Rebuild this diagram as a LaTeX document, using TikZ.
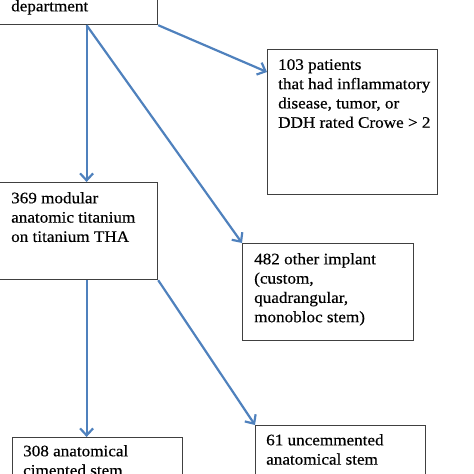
\documentclass[tikz,border=0pt]{standalone}
\usepackage{fontspec}
\setmainfont{Liberation Serif}[FakeStretch=1.07,FakeBold=0.4]
\usetikzlibrary{arrows.meta}
\definecolor{flowblue}{RGB}{79,129,189}
\definecolor{boxgray}{RGB}{64,64,64}

\begin{document}
\begin{tikzpicture}[x=1pt,y=-1pt,
    box/.style={draw=boxgray, line width=1.2pt, anchor=north west, inner sep=0pt},
    txt/.style={anchor=north west, align=left, inner sep=0pt,
                font=\fontsize{16}{19.3}\selectfont},
    flow/.style={draw=flowblue, line width=2.2pt,
                 -{Straight Barb[length=7pt,width=13pt]}}]
            % Fixed frame and clip
            \useasboundingbox (0,0) rectangle (474,474);
            \clip (0,0) rectangle (474,474);

            % Boxes
            \node[box, minimum width=159, minimum height=84] (intake) at (-2,-60) {};
            \node[box, minimum width=159, minimum height=97] (modular) at (-2,182) {};
            \node[box, minimum width=170, minimum height=145] (excluded) at (267,49) {};
            \node[box, minimum width=171, minimum height=97] (other) at (242,243) {};
            \node[box, minimum width=170, minimum height=60] (cemented) at (12,437) {};
            \node[box, minimum width=170, minimum height=80] (uncemented) at (255,425) {};

            % Texts
            \node[txt] (intaketxt) at ([shift={(13,60)}]intake.north west) {department};
            \node[txt] (modulartxt) at ([shift={(13,10)}]modular.north west)
                {369 modular\\anatomic titanium\\on titanium THA};
            \node[txt] (excludedtxt) at ([shift={(11,10)}]excluded.north west)
                {103 patients\\that had inflammatory\\disease, tumor, or\\DDH rated Crowe > 2};
            \node[txt] (othertxt) at ([shift={(12,10)}]other.north west)
                {482 other implant\\(custom,\\quadrangular,\\monobloc stem)};
            \node[txt] (cementedtxt) at ([shift={(11,8)}]cemented.north west)
                {308 anatomical\\cimented stem};
            \node[txt] (uncementedtxt) at ([shift={(11,9)}]uncemented.north west)
                {61 uncemmented\\anatomical stem};

            % Arrows
            \coordinate (fork1) at ([xshift=8.5pt]intake.south);
            \coordinate (fork2) at ([xshift=8.5pt]modular.south);
            \draw[flow] (fork1) -- (fork1 |- modular.north);
            \draw[flow] (intake.south east) -- ([yshift=-23pt]excluded.north west);
            \draw[flow] (fork1) -- (other.north west);
            \draw[flow] (fork2) -- (fork2 |- cemented.north);
            \draw[flow] (modular.south east) -- (uncemented.north west);
        \end{tikzpicture}
\end{document}
